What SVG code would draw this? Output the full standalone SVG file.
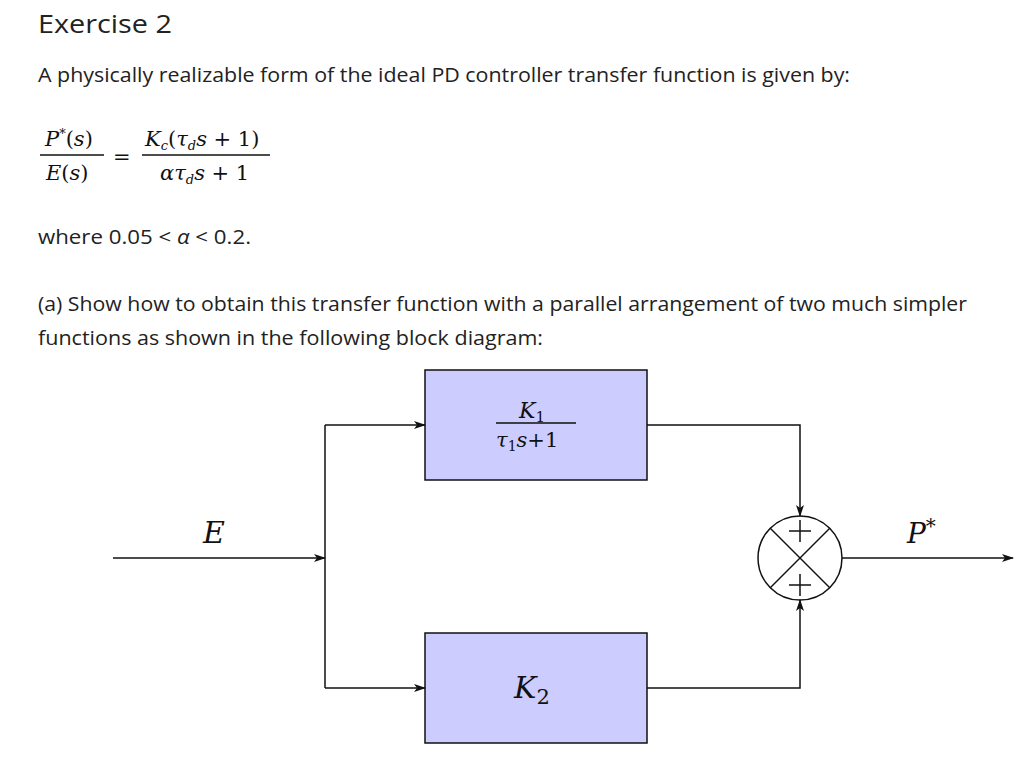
<svg xmlns="http://www.w3.org/2000/svg" width="1024" height="762" viewBox="0 0 1024 762">
<defs>
<style>
.t{font-family:"Open Sans","Liberation Sans",sans-serif;fill:#222}
.m{font-family:"DejaVu Serif","Liberation Serif",serif;font-style:italic;fill:#111}
.r{font-family:"DejaVu Serif","Liberation Serif",serif;fill:#111}
.box{fill:#ccccff;stroke:#111;stroke-width:1.5}
.ln{fill:none;stroke:#111;stroke-width:1.5}
</style>
<marker id="a" markerWidth="12" markerHeight="8" refX="11" refY="4" orient="auto" markerUnits="userSpaceOnUse"><path d="M0,0 L12,4 L0,8 L3,4 Z" fill="#111"/></marker>
</defs>
<rect width="1024" height="762" fill="#fff"/>
<text class="t" x="38" y="33" font-size="26" textLength="134" lengthAdjust="spacingAndGlyphs">Exercise 2</text>
<text class="t" x="38" y="82" font-size="20" textLength="812" lengthAdjust="spacingAndGlyphs">A physically realizable form of the ideal PD controller transfer function is given by:</text>
<g font-size="21">
<text class="m" x="45" y="146">P<tspan font-size="13" dy="-8" font-style="normal">*</tspan><tspan dy="8" font-style="normal">(</tspan>s<tspan font-style="normal">)</tspan></text>
<line x1="40" y1="155" x2="104" y2="155" stroke="#111" stroke-width="1.3"/>
<text class="m" x="46" y="180">E<tspan font-style="normal">(</tspan>s<tspan font-style="normal">)</tspan></text>
<text class="r" x="113" y="164">=</text>
<text class="m" x="145" y="146">K<tspan font-size="13" dy="4">c</tspan><tspan dy="-4" font-style="normal">(</tspan>τ<tspan font-size="13" dy="4">d</tspan><tspan dy="-4">s</tspan><tspan font-style="normal"> + 1)</tspan></text>
<line x1="142" y1="155" x2="270" y2="155" stroke="#111" stroke-width="1.3"/>
<text class="m" x="160" y="180">ατ<tspan font-size="13" dy="4">d</tspan><tspan dy="-4">s</tspan><tspan font-style="normal"> + 1</tspan></text>
</g>
<text class="t" x="38" y="244" font-size="20" textLength="213" lengthAdjust="spacingAndGlyphs">where 0.05 &lt; <tspan font-style="italic">α</tspan> &lt; 0.2.</text>
<text class="t" x="38" y="311" font-size="20" textLength="929" lengthAdjust="spacingAndGlyphs">(a) Show how to obtain this transfer function with a parallel arrangement of two much simpler</text>
<text class="t" x="38" y="345" font-size="20" textLength="505" lengthAdjust="spacingAndGlyphs">functions as shown in the following block diagram:</text>
<g id="block1"><rect class="box" x="425" y="370" width="222" height="110"/>
<text class="m" x="519" y="418" font-size="22">K<tspan font-size="15" dy="4" font-style="normal">1</tspan></text>
<line x1="496" y1="423" x2="576" y2="423" stroke="#111" stroke-width="1.3"/>
<text class="m" x="496" y="447" font-size="21">τ<tspan font-size="14" dy="4" font-style="normal">1</tspan><tspan dy="-4">s</tspan><tspan font-style="normal">+1</tspan></text></g>
<g id="block2"><rect class="box" x="425" y="633" width="222" height="110"/>
<text class="m" x="514" y="698" font-size="30">K<tspan font-size="21" dy="6" font-style="normal">2</tspan></text></g>
<g id="sum"><circle class="ln" cx="800" cy="558" r="42"/>
<line class="ln" x1="770" y1="528" x2="830" y2="588"/><line class="ln" x1="830" y1="528" x2="770" y2="588"/>
<path class="ln" d="M789,531 H811 M800,520 V542 M789,585 H811 M800,574 V596"/></g>
<g id="connectors">
<line class="ln" x1="113" y1="558" x2="325" y2="558" marker-end="url(#a)"/>
<path class="ln" d="M325,425 V688"/>
<line class="ln" x1="325" y1="425" x2="425" y2="425" marker-end="url(#a)"/>
<line class="ln" x1="325" y1="688" x2="425" y2="688" marker-end="url(#a)"/>
<path class="ln" d="M647,425 H800 V516" marker-end="url(#a)"/>
<path class="ln" d="M647,688 H800 V600" marker-end="url(#a)"/>
<line class="ln" x1="842" y1="558" x2="1013" y2="558" marker-end="url(#a)"/>
</g>
<text class="m" x="203" y="543" font-size="30">E</text>
<text class="m" x="907" y="543" font-size="28">P<tspan font-size="20" dy="-10" font-style="normal">*</tspan></text>
</svg>
